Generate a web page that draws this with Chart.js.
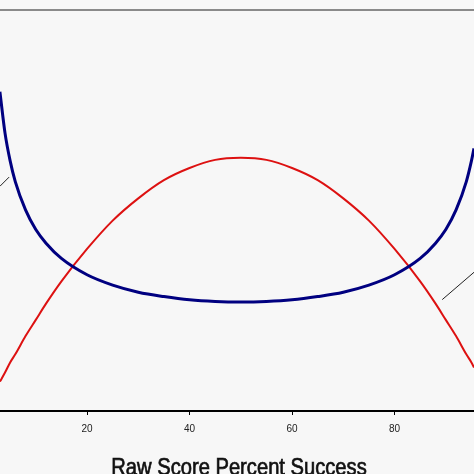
<!DOCTYPE html>
<html>
<head>
<meta charset="utf-8">
<script src="https://cdn.jsdelivr.net/npm/chart.js@4"></script>
<style>
  html, body { margin: 0; padding: 0; background: #f7f7f7; }
  canvas { display: block; }
</style>
</head>
<body>
<canvas id="curveChart" width="474" height="474"></canvas>
<script>
// percent success positions
const scorePct = [3, 4, 5, 6, 8, 10, 12, 15, 20, 25, 30, 35, 40, 45, 50, 55, 60, 65, 70, 75, 80, 85, 88, 90, 92, 94, 95, 95.5];
// blue curve (error)
const errorVals = [5.86, 5.10, 4.59, 4.21, 3.69, 3.33, 3.08, 2.80, 2.50, 2.31, 2.18, 2.10, 2.04, 2.01, 2.00, 2.01, 2.04, 2.10, 2.18, 2.31, 2.50, 2.80, 3.08, 3.33, 3.69, 4.21, 4.59, 4.82];
// red curve (information)
const infoVals = [0.029, 0.038, 0.048, 0.056, 0.074, 0.090, 0.106, 0.128, 0.160, 0.188, 0.210, 0.228, 0.240, 0.248, 0.250, 0.248, 0.240, 0.228, 0.210, 0.188, 0.160, 0.128, 0.106, 0.090, 0.074, 0.056, 0.048, 0.043];
// small leader lines for labels cut off at the edges (red axis units)
const leftLeaderX = [3.02, 4.8];
const leftLeaderY = [0.222, 0.231];
const rightLeaderX = [89.3, 95.5];
const rightLeaderY = [0.110, 0.137];
const xTicks = [20, 40, 60, 80];
const xTitle = 'Raw Score Percent Success';

function toPoints(xs, ys) {
  return xs.map((x, i) => ({ x: x, y: ys[i] }));
}

const bgPlugin = {
  id: 'bg',
  beforeDraw(chart) {
    const c = chart.ctx;
    c.save();
    c.fillStyle = '#f7f7f7';
    c.fillRect(0, 0, chart.width, chart.height);
    c.restore();
  },
  afterDraw(chart) {
    const c = chart.ctx;
    const area = chart.chartArea;
    c.save();
    // grey frame line on top of plot
    c.strokeStyle = '#8a8a8a';
    c.lineWidth = 2;
    c.beginPath();
    c.moveTo(0, area.top);
    c.lineTo(chart.width, area.top);
    c.stroke();
    // narrow axis title (Arial Narrow look)
    c.translate((area.left + area.right) / 2 + 2, chart.height + 1);
    c.scale(0.84, 1);
    c.fillStyle = '#111';
    c.strokeStyle = '#111';
    c.lineWidth = 0.7;
    c.font = "24px 'Liberation Sans', Arial";
    c.textAlign = 'center';
    c.textBaseline = 'alphabetic';
    c.fillText(xTitle, 0, 0);
    c.strokeText(xTitle, 0, 0);
    c.restore();
  }
};

const ctx = document.getElementById('curveChart').getContext('2d');
new Chart(ctx, {
  type: 'line',
  data: {
    datasets: [
      {
        label: 'Error',
        data: toPoints(scorePct, errorVals),
        yAxisID: 'yErr',
        borderColor: '#000080',
        borderWidth: 3,
        pointRadius: 0,
        cubicInterpolationMode: 'monotone'
      },
      {
        label: 'Information',
        data: toPoints(scorePct, infoVals),
        yAxisID: 'yInfo',
        borderColor: '#dd1111',
        borderWidth: 2,
        pointRadius: 0,
        cubicInterpolationMode: 'monotone'
      },
      {
        data: toPoints(leftLeaderX, leftLeaderY),
        yAxisID: 'yInfo',
        borderColor: '#222',
        borderWidth: 1,
        pointRadius: 0
      },
      {
        data: toPoints(rightLeaderX, rightLeaderY),
        yAxisID: 'yInfo',
        borderColor: '#222',
        borderWidth: 1,
        pointRadius: 0
      }
    ]
  },
  options: {
    responsive: false,
    animation: false,
    layout: { padding: { top: 10, left: 0, right: 0, bottom: 0 } },
    plugins: {
      legend: { display: false },
      tooltip: { enabled: false }
    },
    scales: {
      x: {
        type: 'linear',
        min: 3.02,
        max: 95.5,
        afterBuildTicks: (axis) => { axis.ticks = xTicks.map(v => ({ value: v })); },
        afterFit: (axis) => { axis.height = 63; },
        border: { display: true, color: '#000', width: 2 },
        grid: { drawOnChartArea: false, drawTicks: true, tickLength: 4, color: '#000' },
        ticks: {
          padding: 8,
          color: '#222',
          font: { family: "'Liberation Sans', Arial", size: 10 }
        }
      },
      yErr: { display: false, min: 0, max: 7.36 },
      yInfo: { display: false, min: 0, max: 0.396 }
    }
  },
  plugins: [bgPlugin]
});
</script>
</body>
</html>
